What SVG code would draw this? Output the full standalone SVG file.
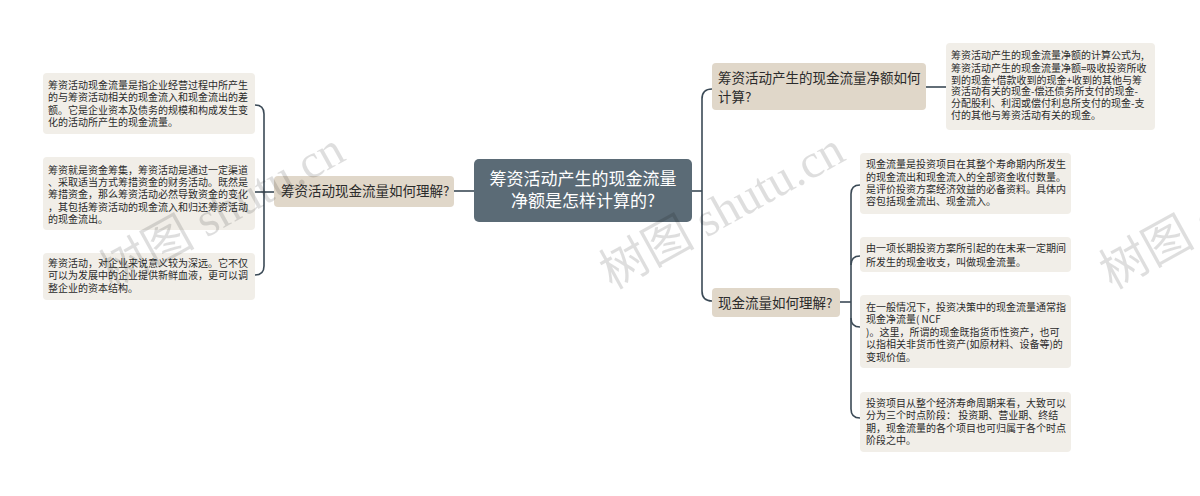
<svg xmlns="http://www.w3.org/2000/svg" width="1200" height="496" viewBox="0 0 1200 496">
<style>
.bg{fill:#ffffff}
.root{fill:#5b6b76}
.sub{fill:#e0d7c9}
.leaf{fill:#f1eee8}
.t{font-family:"Noto Sans CJK SC","Noto Sans",sans-serif;fill:#2b2b2b}
.rt{font-family:"Noto Sans CJK SC","Noto Sans",sans-serif;fill:#ffffff;font-size:17px}
.st{font-size:13.5px}
.lt{font-size:10px}
.ln{fill:none;stroke:#3b4a56;stroke-width:1.6}
.wm{font-family:"Liberation Serif","Noto Sans CJK SC",serif;font-size:48px;fill:#000;fill-opacity:0.13}
</style>
<rect class="bg" x="0" y="0" width="1200" height="496"/>
<g id="connectors">
<path class="ln" d="M474,191 L454,191"/>
<path class="ln" d="M274,192 L255,192"/>
<path class="ln" d="M255,105 Q264,105 264,114 L264,266 Q264,275 255,275"/>
<path class="ln" d="M692,191 L702,191"/>
<path class="ln" d="M712,89 Q702,89 702,99 L702,291 Q702,301 712,301"/>
<path class="ln" d="M926,87 L946,87"/>
<path class="ln" d="M840,302 L851,302"/>
<path class="ln" d="M860,185 Q851,185 851,194 L851,409 Q851,418 860,418"/>
<path class="ln" d="M851,265 Q851,256 860,256"/>
<path class="ln" d="M851,318 Q851,327 860,327"/>
</g>
<g id="root">
<rect class="root" x="474" y="159" width="218" height="63" rx="5"/>
<text class="rt" x="583" y="185" text-anchor="middle">筹资活动产生的现金流量</text>
<text class="rt" x="583" y="207" text-anchor="middle">净额是怎样计算的?</text>
</g>
<g id="left-node">
<rect class="sub" x="274" y="176" width="180" height="31" rx="4"/>
<text class="t st" x="281" y="196">筹资活动现金流量如何理解?</text>
</g>
<g id="left-leaf-1">
<rect class="leaf" x="43" y="73" width="212" height="61" rx="4"/>
<text class="t lt" x="48" y="89">筹资活动现金流量是指企业经营过程中所产生</text>
<text class="t lt" x="48" y="101">的与筹资活动相关的现金流入和现金流出的差</text>
<text class="t lt" x="48" y="114">额。它是企业资本及债务的规模和构成发生变</text>
<text class="t lt" x="48" y="126">化的活动所产生的现金流量。</text>
</g>
<g id="left-leaf-2">
<rect class="leaf" x="43" y="157" width="212" height="73" rx="4"/>
<text class="t lt" x="48" y="174">筹资就是资金筹集，筹资活动是通过一定渠道</text>
<text class="t lt" x="48" y="186">、采取适当方式筹措资金的财务活动。既然是</text>
<text class="t lt" x="48" y="198">筹措资金，那么筹资活动必然导致资金的变化</text>
<text class="t lt" x="48" y="211">，其包括筹资活动的现金流入和归还筹资活动</text>
<text class="t lt" x="48" y="223">的现金流出。</text>
</g>
<g id="left-leaf-3">
<rect class="leaf" x="43" y="253" width="212" height="47" rx="4"/>
<text class="t lt" x="48" y="267">筹资活动，对企业来说意义较为深远。它不仅</text>
<text class="t lt" x="48" y="279">可以为发展中的企业提供新鲜血液，更可以调</text>
<text class="t lt" x="48" y="292">整企业的资本结构。</text>
</g>
<g id="right-node-1">
<rect class="sub" x="712" y="63" width="214" height="47" rx="4"/>
<text class="t st" x="718" y="83">筹资活动产生的现金流量净额如何</text>
<text class="t st" x="718" y="102">计算?</text>
</g>
<g id="right-leaf-1">
<rect class="leaf" x="946" y="43" width="209" height="87" rx="4"/>
<text class="t lt" x="951" y="59">筹资活动产生的现金流量净额的计算公式为,</text>
<text class="t lt" x="951" y="72">筹资活动产生的现金流量净额=吸收投资所收</text>
<text class="t lt" x="951" y="84">到的现金+借款收到的现金+收到的其他与筹</text>
<text class="t lt" x="951" y="95">资活动有关的现金-偿还债务所支付的现金-</text>
<text class="t lt" x="951" y="107">分配股利、利润或偿付利息所支付的现金-支</text>
<text class="t lt" x="951" y="119">付的其他与筹资活动有关的现金。</text>
</g>
<g id="right-node-2">
<rect class="sub" x="712" y="288" width="128" height="29" rx="4"/>
<text class="t st" x="718" y="308">现金流量如何理解?</text>
</g>
<g id="right-leaf-2">
<rect class="leaf" x="860" y="153" width="211" height="61" rx="4"/>
<text class="t lt" x="866" y="168">现金流量是投资项目在其整个寿命期内所发生</text>
<text class="t lt" x="866" y="181">的现金流出和现金流入的全部资金收付数量。</text>
<text class="t lt" x="866" y="193">是评价投资方案经济效益的必备资料。具体内</text>
<text class="t lt" x="866" y="205">容包括现金流出、现金流入。</text>
</g>
<g id="right-leaf-3">
<rect class="leaf" x="860" y="237" width="211" height="35" rx="4"/>
<text class="t lt" x="866" y="252">由一项长期投资方案所引起的在未来一定期间</text>
<text class="t lt" x="866" y="266">所发生的现金收支，叫做现金流量。</text>
</g>
<g id="right-leaf-4">
<rect class="leaf" x="860" y="295" width="211" height="73" rx="4"/>
<text class="t lt" x="866" y="311">在一般情况下，投资决策中的现金流量通常指</text>
<text class="t lt" x="866" y="323">现金净流量( NCF</text>
<text class="t lt" x="866" y="336">)。这里，所谓的现金既指货币性资产，也可</text>
<text class="t lt" x="866" y="348">以指相关非货币性资产(如原材料、设备等)的</text>
<text class="t lt" x="866" y="361">变现价值。</text>
</g>
<g id="right-leaf-5">
<rect class="leaf" x="860" y="392" width="211" height="60" rx="4"/>
<text class="t lt" x="866" y="407">投资项目从整个经济寿命周期来看，大致可以</text>
<text class="t lt" x="866" y="419">分为三个时点阶段： 投资期、营业期、终结</text>
<text class="t lt" x="866" y="432">期，现金流量的各个项目也可归属于各个时点</text>
<text class="t lt" x="866" y="444">阶段之中。</text>
</g>
<g id="watermarks">
<text class="wm" transform="translate(112,290) rotate(-29)">树图 shutu.cn</text>
<text class="wm" transform="translate(612,290) rotate(-29)">树图 shutu.cn</text>
<text class="wm" transform="translate(1112,290) rotate(-29)">树图 shutu.cn</text>
</g>
</svg>
